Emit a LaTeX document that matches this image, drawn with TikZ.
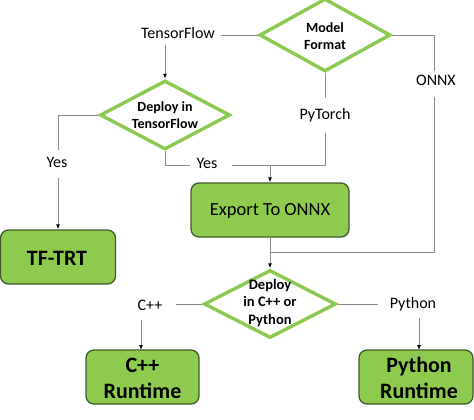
\documentclass[tikz,border=0pt]{standalone}
\usepackage{fontspec}
\setmainfont{Carlito}
\usetikzlibrary{shapes.geometric,arrows.meta}
\definecolor{boxfill}{HTML}{8DCB4F}
\definecolor{boxline}{HTML}{3E5A2C}
\definecolor{dline}{HTML}{8CC950}
\definecolor{cline}{HTML}{8A8A8A}
\begin{document}
\begin{tikzpicture}[x=1pt,y=-1pt,
  dec/.style={diamond,draw=dline,line width=3.4pt,fill=white,inner sep=0pt},
  dtext/.style={font=\fontsize{14}{16.5}\selectfont\bfseries,align=center,inner sep=0pt},
  box/.style={draw=boxline,line width=1.3pt,fill=boxfill,rounded corners=8pt,inner sep=0pt},
  btext/.style={font=\fontsize{22}{26}\selectfont\bfseries,align=center},
  lbl/.style={font=\fontsize{16}{18}\selectfont,inner sep=0pt},
  conn/.style={draw=cline,line width=0.9pt},
  arr/.style={conn,-{Latex[length=5pt,width=4pt,black]}}]
\useasboundingbox (0,0) rectangle (474,420);
% diamonds
\node[dec,minimum width=131pt,minimum height=73pt] (mf) at (325,35) {};
\node[dtext] (mft) at (325,36) {Model\\Format};
\node[dec,minimum width=130pt,minimum height=69pt] (dtf) at (165,115) {};
\node[dtext] (dtft) at (165,115) {Deploy in\\TensorFlow};
\node[dec,minimum width=132pt,minimum height=68pt] (dcp) at (270,304) {};
\node[dtext,font=\fontsize{14.5}{17.5}\selectfont\bfseries] (dcpt) at (270,303) {Deploy\\in C++ or\\Python};
% boxes
\node[box,minimum width=158pt,minimum height=54pt] (exp) at (270,210) {};
\node[font=\fontsize{18.5}{20}\selectfont] (expt) at (270,211) {Export To ONNX};
\node[box,minimum width=115pt,minimum height=54pt] (tft) at (58,257) {};
\node[btext] (tftt) at (57,258) {TF-TRT};
\node[box,minimum width=113pt,minimum height=54pt] (cpr) at (142.5,377) {};
\node[btext] (cprt) at (142.5,378) {C++\\Runtime};
\node[box,minimum width=114pt,minimum height=54pt] (pyr) at (416,377) {};
\node[btext] (pyrt) at (419,378) {Python\\Runtime};
% labels
\node[lbl] (ltf) at (178,33) {TensorFlow};
\node[lbl] (lonnx) at (436,80) {ONNX};
\node[lbl] (lpt) at (325,115) {PyTorch};
\node[lbl] (lyes1) at (57,162) {Yes};
\node[lbl] (lyes2) at (207,163) {Yes};
\node[lbl] (lcpp) at (150,305) {C++};
\node[lbl] (lpy) at (413,304) {Python};
% coordinates
\coordinate (j1) at (434,252);
\coordinate (j2) at (270,252);
\coordinate (m) at (270,165);
% connectors
\draw[conn] (mf.west) -- (221,35);
\draw[arr] (165,45) -- (dtf.north);
\draw[conn] (mf.east) -- (434,35) -- (434,71);
\draw[conn] (434,97) -- (j1) -- (j2);
\draw[conn] (mf.south) -- (325,98);
\draw[conn] (325,133) -- (325,165) -- (232,165);
\draw[conn] (dtf.south) -- (165,165) -- (190,165);
\draw[conn] (dtf.west) -- (58,115) -- (58,150);
\draw[arr] (58,178) -- (tft.north);
\draw[arr] (m) -- (exp.north);
\draw[arr] (exp.south) -- (dcp.north);
\draw[conn] (dcp.west) -- (176,304);
\draw[conn] (dcp.east) -- (378,304);
\draw[arr] (141,320) -- (141,350);
\draw[arr] (419,318) -- (419,350);
\end{tikzpicture}
\end{document}
